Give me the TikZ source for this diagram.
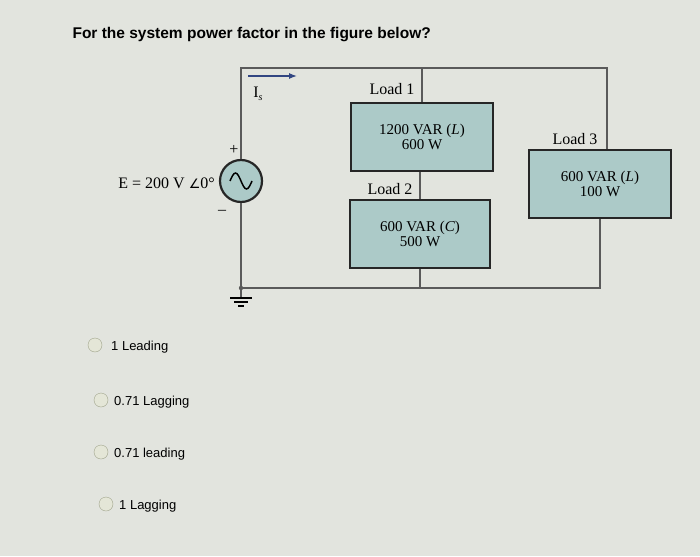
\documentclass[tikz,border=0pt]{standalone}
\usepackage{fontspec}
\usetikzlibrary{arrows.meta}
\setmainfont{Liberation Serif}
\newfontfamily\ui{Liberation Sans}
\newfontfamily\dv{DejaVu Sans}
\definecolor{bg}{RGB}{226,228,222}
\definecolor{boxf}{RGB}{172,202,200}
\definecolor{wire}{RGB}{90,90,90}
\definecolor{arr}{RGB}{50,70,130}
\definecolor{radio}{RGB}{200,205,175}
\begin{document}
\begin{tikzpicture}[x=1pt,y=-1pt,
  loadbox/.style={draw=black!85,line width=2.2pt,fill=boxf,minimum width=142pt,minimum height=68pt,inner sep=0pt,font=\fontsize{15}{15}\selectfont,align=center},
  lbl/.style={font=\fontsize{16}{17}\selectfont,inner sep=1pt},
  w/.style={draw=wire,line width=1.3pt},
  opt/.style={font=\ui\fontsize{13}{14}\selectfont,anchor=west,inner sep=0pt},
  rad/.style={circle,draw=radio!80!black,fill=radio!50,minimum size=14pt,inner sep=0pt}]
\fill[bg] (0,0) rectangle (700,556);
\useasboundingbox (0,0) rectangle (700,556);
\node[font=\ui\bfseries\fontsize{15.5}{17}\selectfont,anchor=west] (title) at (69,35) {For the system power factor in the figure below?};
\node[loadbox] (L1) at (422,137) {1200 VAR (\textit{L})\\600 W};
\node[loadbox,minimum width=140pt] (L2) at (420,234) {600 VAR (\textit{C})\\500 W};
\node[loadbox] (L3) at (600,184) {600 VAR (\textit{L})\\100 W};
\node[circle,draw=black!85,line width=2.2pt,fill=boxf,minimum size=42pt,inner sep=0pt] (src) at (241,181) {};
\draw[line width=1.5pt,shift={(src.center)}] (-11,0) sin (-5.5,-8) cos (0,0) sin (5.5,8) cos (11,0);
\coordinate (tl) at (241,68);
\coordinate (tr) at (607,68);
\coordinate (bl) at (241,288);
\coordinate (br) at (600,288);
\coordinate (t1) at (422,68);
\coordinate (b2) at (420,288);
\draw[w] (src.north) -- (tl) -- (tr) -- (L3.north -| tr);
\draw[w] (t1) -- (L1.north);
\draw[w] (L1.south -| 420,0) -- (L2.north);
\draw[w] (L2.south) -- (b2);
\draw[w] (src.south) -- (bl) -- (br) -- (L3.south -| br);
\fill[wire] (bl) circle (2.2pt);
\coordinate (g) at (241,298);
\draw[w] (bl) -- (g);
\draw[line width=1.5pt,shift={(g)}] (-11,0) -- (11,0) (-7,4) -- (7,4) (-3,8) -- (3,8);
\coordinate (a1) at (248,76);
\coordinate (a2) at (297,76);
\draw[arr,line width=1.3pt,-{Latex[length=8pt,width=6pt]}] (a1) -- (a2);
\node[lbl] (Is) at (258,94) {I\raisebox{-3pt}{\fontsize{10}{10}\selectfont\textit{s}}};
\node[lbl] (n1) at (392,89) {Load 1};
\node[lbl] (n2) at (390,189) {Load 2};
\node[lbl] (n3) at (575,139) {Load 3};
\node[lbl] (plus) at (234,150) {+};
\node[lbl] (minus) at (222,212) {--};
\node[lbl,anchor=east] (E) at (216,183) {E = 200 V {\dv\fontsize{13}{13}\selectfont∠}0°};
\node[rad] (r1) at (95,345) {};
\node[opt] (o1) at (111,347) {1 Leading};
\node[rad] (r2) at (101,400) {};
\node[opt] (o2) at (114,402) {0.71 Lagging};
\node[rad] (r3) at (101,452) {};
\node[opt] (o3) at (114,454) {0.71 leading};
\node[rad] (r4) at (106,504) {};
\node[opt] (o4) at (119,506) {1 Lagging};
\end{tikzpicture}
\end{document}
